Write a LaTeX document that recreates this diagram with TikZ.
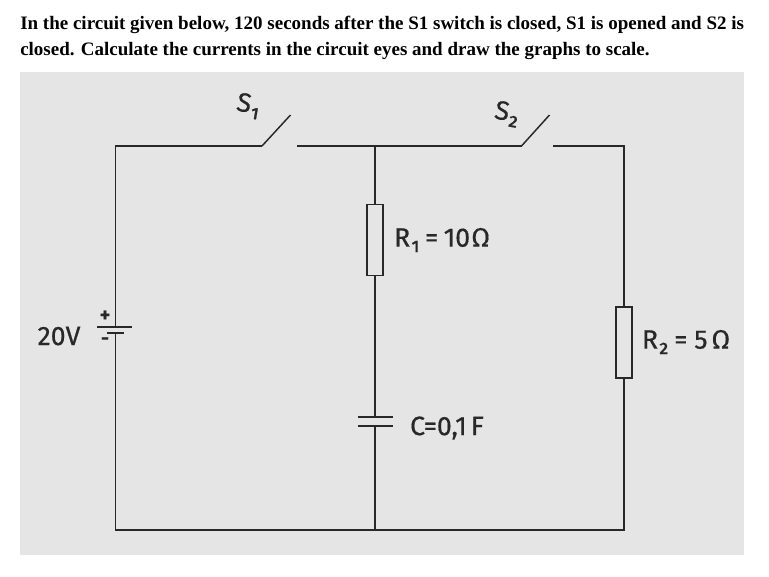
\documentclass[tikz,border=0pt]{standalone}
\usepackage{fontspec}
\setmainfont{Liberation Serif}
\newfontfamily\handfont[FakeBold=0.5]{Fira Sans}
\definecolor{panel}{RGB}{229,229,229}
\definecolor{ink}{RGB}{40,40,40}
\tikzset{
  wire/.style={draw=ink,line width=1.2pt,line join=miter},
  blade/.style={draw=ink,line width=1.1pt},
  resbox/.style={draw=ink,line width=1.2pt,minimum width=12.4pt,minimum height=53.5pt,inner sep=0pt,rectangle},
  hand/.style={text=ink,font=\handfont\fontsize{20}{20}\selectfont,inner sep=0pt,anchor=center},
  head/.style={anchor=base west,inner sep=0pt,font=\bfseries\fontsize{14.25}{16}\selectfont,text=black}
}
\begin{document}
\begin{tikzpicture}[x=0.75pt,y=-0.75pt]
\useasboundingbox (0,0) rectangle (769,576);
\fill[white] (0,0) rectangle (769,576);
\fill[panel] (20,72) rectangle (744,555);
\node[head] (line1) at (20,29.5) {In the circuit given below, 120 seconds after the S1 switch is closed, S1 is opened and S2 is};
\node[head] (line2) at (20,55.5) {closed. Calculate the currents in the circuit eyes and draw the graphs to scale.};
% corners and junctions
\coordinate (tl) at (115.5,146);
\coordinate (tr) at (624,146);
\coordinate (bl) at (115.5,530);
\coordinate (br) at (624,530);
\coordinate (jt) at (375,146);
\coordinate (jb) at (375,530);
% switches
\coordinate (s1a) at (262,146);
\coordinate (s1b) at (290.5,115);
\coordinate (s1c) at (297,146);
\coordinate (s2a) at (521.5,146);
\coordinate (s2b) at (549.5,115);
\coordinate (s2c) at (553,146);
% battery
\coordinate (batp) at (115.5,327);
\coordinate (batm) at (115.5,333);
\coordinate (batpl) at (97,327);
\coordinate (batpr) at (132,327);
\coordinate (batml) at (107,333);
\coordinate (batmr) at (124,333);
% capacitor
\coordinate (capt) at (375,417);
\coordinate (capb) at (375,426);
\coordinate (captl) at (358,417);
\coordinate (captr) at (393,417);
\coordinate (capbl) at (358,426);
\coordinate (capbr) at (393,426);
% resistors
\node[resbox] (r1) at (375,240) {};
\node[resbox] (r2) at (624,342.5) {};
% wires
\draw[wire] (batp) -- (tl) -- (s1a);
\draw[blade] (s1a) -- (s1b);
\draw[wire] (s1c) -- (s2a);
\draw[blade] (s2a) -- (s2b);
\draw[wire] (s2c) -- (tr) -- (r2.north);
\draw[wire] (r2.south) -- (br) -- (bl) -- (batm);
\draw[wire] (jt) -- (r1.north);
\draw[wire] (r1.south) -- (capt);
\draw[wire] (capb) -- (jb);
\draw[wire] (batpl) -- (batpr);
\draw[wire] (batml) -- (batmr);
\draw[wire] (captl) -- (captr);
\draw[wire] (capbl) -- (capbr);
% labels
\node[hand,rotate=-10] (ls1) at (249,106) {S₁};
\node[hand,rotate=-10] (ls2) at (507,114) {S₂};
\node[hand] (lbat) at (59,336) {20V};
\node[hand,font=\handfont\bfseries\fontsize{15}{15}\selectfont] (lplus) at (105,316) {+};
\node[hand,font=\handfont\bfseries\fontsize{15}{15}\selectfont] (lminus) at (105,341) {-};
\node[hand] (lr1) at (442,240) {R₁\kern3pt=\kern4pt10\kern1pt Ω};
\node[hand] (lc) at (447,428) {C=0,1\kern3pt F};
\node[hand] (lr2) at (686,342) {R₂\kern4pt=\kern5pt5\kern3pt Ω};
\end{tikzpicture}
\end{document}
